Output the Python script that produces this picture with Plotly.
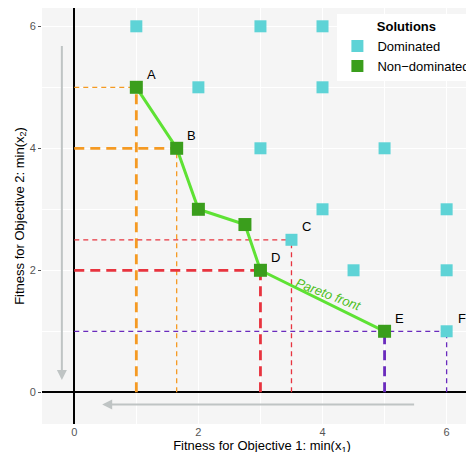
import plotly.graph_objects as go

# Solutions
nd_x = [1, 1.65, 2, 2.75, 3, 5]
nd_y = [5, 4, 3, 2.75, 2, 1]
dom_x = [1, 3, 4, 2, 4, 3, 5, 4, 6, 3.5, 4.5, 6, 6]
dom_y = [6, 6, 6, 5, 5, 4, 4, 3, 3, 2.5, 2, 2, 1]

labels = ["A", "B", "C", "D", "E", "F"]
label_x = [1, 1.65, 3.5, 3, 5, 6]
label_y = [5, 4, 2.5, 2, 1, 1]

ORANGE = "#f59a23"
RED = "#e8343f"
PURPLE = "#6a2bbd"

fig = go.Figure()

def dash_line(x, y, color, width):
    dash = "10px,6px" if width > 2 else "5px,4px"
    fig.add_trace(go.Scatter(x=x, y=y, mode="lines", showlegend=False, hoverinfo="skip",
                             line=dict(color=color, width=width, dash=dash)))

# projections onto the axes
dash_line([0, 1], [5, 5], ORANGE, 1.3)
dash_line([1, 1], [0, 5], ORANGE, 2.8)
dash_line([0, 1.65], [4, 4], ORANGE, 2.8)
dash_line([1.65, 1.65], [0, 4], ORANGE, 1.3)
dash_line([0, 3.5], [2.5, 2.5], RED, 1.3)
dash_line([3.5, 3.5], [0, 2.5], RED, 1.3)
dash_line([0, 3], [2, 2], RED, 2.8)
dash_line([3, 3], [0, 2], RED, 2.8)
dash_line([0, 6], [1, 1], PURPLE, 1.3)
dash_line([5, 5], [0, 1], PURPLE, 2.8)
dash_line([6, 6], [0, 1], PURPLE, 1.3)

# Pareto front
fig.add_trace(go.Scatter(x=nd_x, y=nd_y, mode="lines", showlegend=False, hoverinfo="skip",
                         line=dict(color="#5ee234", width=3)))

fig.add_trace(go.Scatter(x=dom_x, y=dom_y, mode="markers", name="Dominated",
                         marker=dict(symbol="square", size=12, color="#5ed3d6")))
fig.add_trace(go.Scatter(x=nd_x, y=nd_y, mode="markers", name="Non\u2212dominated",
                         marker=dict(symbol="square", size=13, color="#3a9e1c")))

for t, x, y in zip(labels, label_x, label_y):
    fig.add_annotation(x=x, y=y, text=t, showarrow=False, xshift=15, yshift=13,
                       font=dict(size=13, color="black"))

fig.add_annotation(x=4.1, y=1.6, text="<i>Pareto front</i>", showarrow=False, textangle=21,
                   font=dict(size=13, color="#4cbf1a"))

# direction arrows
fig.add_annotation(x=-0.2, y=0.2, ax=-0.2, ay=5.7, xref="x", yref="y", axref="x", ayref="y",
                   showarrow=True, arrowhead=2, arrowsize=1, arrowwidth=2, arrowcolor="#bfc4c4", text="")
fig.add_annotation(x=0.45, y=-0.2, ax=5.5, ay=-0.2, xref="x", yref="y", axref="x", ayref="y",
                   showarrow=True, arrowhead=2, arrowsize=1, arrowwidth=2, arrowcolor="#bfc4c4", text="")

fig.update_layout(
    width=474, height=452,
    margin=dict(l=34, r=0, t=0, b=36),
    paper_bgcolor="white", plot_bgcolor="#f5f5f5",
    font=dict(family="Liberation Sans, Arial", color="black"),
    legend=dict(title=dict(text="<b>Solutions</b>", side="top center", font=dict(size=13)),
                x=0.985, y=0.985, xanchor="right", yanchor="top",
                bgcolor="white", font=dict(size=13), itemsizing="constant"),
)
fig.update_xaxes(range=[-0.52, 6.57], tickvals=[0, 2, 4, 6], showgrid=True, gridcolor="white",
                 minor=dict(tickvals=[1, 3, 5], showgrid=True, gridcolor="white"),
                 zeroline=True, zerolinecolor="black", zerolinewidth=1.5, automargin=False,
                 tickfont=dict(size=11, color="#555"), ticks="",
                 title=dict(text="Fitness for Objective 1: min(x<sub>1</sub>)", font=dict(size=13), standoff=2))
fig.update_yaxes(range=[-0.52, 6.3], tickvals=[0, 2, 4, 6], showgrid=True, gridcolor="white",
                 minor=dict(tickvals=[1, 3, 5], showgrid=True, gridcolor="white"),
                 zeroline=True, zerolinecolor="black", zerolinewidth=1.5, automargin=False,
                 tickfont=dict(size=11, color="#555"), ticks="outside", ticklen=3, tickcolor="#555",
                 title=dict(text="Fitness for Objective 2: min(x<sub>2</sub>)", font=dict(size=13), standoff=2))

fig.write_html("out.html")
